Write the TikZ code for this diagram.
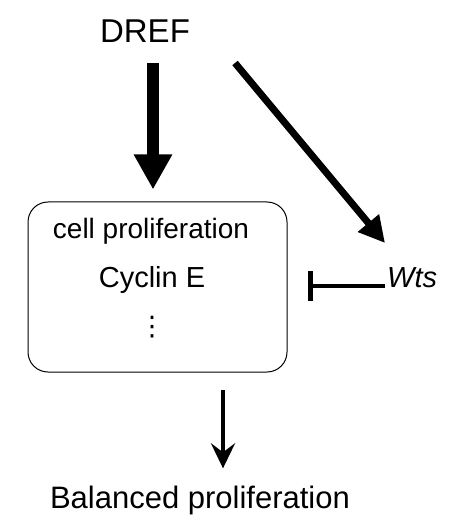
\documentclass[tikz,border=0pt]{standalone}
\usepackage{fontspec}
\setmainfont{Liberation Sans}
\newfontfamily\dejavu{DejaVu Sans}
\usetikzlibrary{arrows.meta}
\tikzstyle{label}=[inner sep=0pt,anchor=base]
\tikzstyle{thickarrow}=[line width=12pt,-{Triangle[width=36pt,length=35pt]}]
\tikzstyle{diagarrow}=[line width=7pt,-{Triangle[width=26pt,length=26pt]}]
\tikzstyle{downarrow}=[line width=4.5pt,-{Stealth[width=24pt,length=25pt,inset=9pt]}]
\tikzstyle{inhibit}=[line width=4pt,-{Bar[width=30pt,line width=5pt]}]
\newcommand{\fsize}[1]{\fontsize{#1}{#1}\selectfont}

\begin{document}
\begin{tikzpicture}[x=1pt,y=-1pt]
\useasboundingbox (0,0) rectangle (474,529);
% nodes
\node[label] (dref) at (145,43) {\fsize{33}DREF};
\node[draw,line width=1pt,rounded corners=20pt,minimum width=259pt,minimum height=170pt] (box) at (157.5,287) {};
\node[label] (cell) at (151,238) {\fsize{28}cell proliferation};
\node[label] (cyc) at (152,287) {\fsize{29}Cyclin E};
\node[inner sep=0pt] (dots) at (152,327) {\dejavu\fsize{27}⋮};
\node[label,anchor=base west] (wts) at (387,287) {\fsize{29}\itshape Wts};
\node[label] (bal) at (200,508) {\fsize{31}Balanced proliferation};
% free ends
\coordinate (drefdown) at (153,63);
\coordinate (drefdiag) at (235,63);
\coordinate (wtsin) at (385,243);
\coordinate (wtsout) at (385,286);
\coordinate (boxout) at (223,390);
% connectors
\draw[thickarrow] (drefdown) -- (drefdown |- box.north) [shorten >=12pt];
\draw[diagarrow] (drefdiag) -- (wtsin);
\draw[inhibit] (wtsout) -- (wtsout -| box.east) [shorten >=20pt];
\draw[downarrow] (boxout) -- (boxout |- bal.north) [shorten >=17pt];
\end{tikzpicture}
\end{document}
